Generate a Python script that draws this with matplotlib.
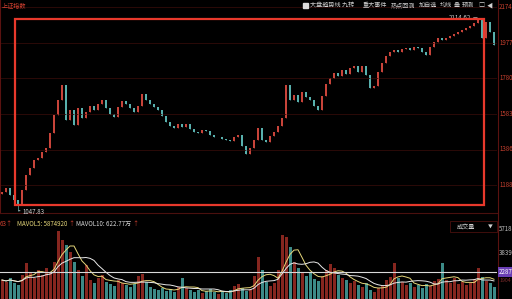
import matplotlib
matplotlib.use("Agg")
import matplotlib.pyplot as plt
import numpy as np
import pandas as pd
from matplotlib.patches import Rectangle

plt.rcParams['font.family'] = ['Noto Sans CJK SC', 'DejaVu Sans']

# daily closes of 上证指数
closes = [1151, 1173, 1134, 1107, 1079, 1162, 1245, 1284, 1328, 1339,
          1372, 1394, 1477, 1577, 1660, 1743, 1549, 1604, 1521, 1615,
          1560, 1593, 1627, 1604, 1638, 1660, 1615, 1582, 1566, 1621,
          1654, 1638, 1615, 1593, 1627, 1693, 1660, 1638, 1621, 1604,
          1571, 1538, 1516, 1505, 1527, 1510, 1527, 1499, 1483, 1477,
          1494, 1488, 1466, 1455, 1455, 1444, 1439, 1433, 1455, 1466,
          1405, 1361, 1394, 1439, 1505, 1439, 1427, 1461, 1483, 1516,
          1560, 1743, 1660, 1687, 1649, 1704, 1676, 1660, 1627, 1604,
          1682, 1748, 1781, 1809, 1792, 1826, 1803, 1837, 1848, 1815,
          1848, 1798, 1726, 1737, 1815, 1864, 1903, 1925, 1936, 1925,
          1942, 1947, 1936, 1953, 1947, 1925, 1909, 1953, 1980, 2003,
          1992, 2003, 2014, 2025, 2036, 2047, 2058, 2069, 2086, 2108,
          2003, 2091, 2036, 1964]
first_open = 1140
extreme_lows = {4: 1047.83}
extreme_highs = {119: 2114.62}

volumes = [1650, 1500, 1800, 1400, 1250, 2050, 3000, 2300, 1800, 2450,
           2050, 2600, 2300, 3100, 5550, 4850, 4450, 3900, 3100, 2450,
           1950, 2850, 1650, 1400, 1800, 2050, 1500, 1350, 1150, 1650,
           1400, 1250, 1100, 1350, 1950, 2100, 1500, 1100, 950, 850,
           1000, 750, 950, 700, 1100, 1800, 1000, 850, 700, 850,
           600, 750, 950, 700, 550, 750, 600, 850, 1150, 1350,
           1000, 750, 950, 1950, 3500, 2450, 1500, 1150, 1400, 2450,
           5250, 5100, 4300, 3100, 2600, 2200, 1950, 2300, 1700, 1550,
           1950, 2450, 2900, 2600, 2050, 1800, 1650, 1400, 1550, 1250,
           1100, 1400, 850, 700, 1000, 1150, 1650, 1900, 3000, 1800,
           1500, 1250, 1400, 1100, 1250, 1000, 1350, 1150, 1550, 1700,
           3000, 1650, 1400, 1800, 1350, 1500, 1250, 1400, 1700, 2600,
           1900, 1550, 1400, 1100]

price_ticks = [2174, 1977, 1780, 1583, 1386, 1188]
vol_ticks = [5718, 3839]
vol_mark = 2287

W, H = 512, 299
UP = '#c8443a'
DOWN = '#58b0ad'
VUP = '#86261f'
VDOWN = '#3c8a87'
GRID = '#320b09'
FS = 4.4


def fx(x):
    return x / W


def fy(y):
    return 1 - y / H


fig = plt.figure(figsize=(W / 100, H / 100), dpi=100, facecolor='black')

# price panel
ax = fig.add_axes([0, fy(213), fx(497), 213 / H], facecolor='black')
n = len(closes)
idx = np.arange(n)
opens = [first_open] + closes[:-1]
cols = [UP if c >= o else DOWN for o, c in zip(opens, closes)]
for p in price_ticks:
    ax.axhline(p, color=GRID, lw=0.6)
for i in idx:
    lo = min(opens[i], closes[i])
    hi = max(opens[i], closes[i])
    if i in extreme_lows:
        lo = extreme_lows[i]
    if i in extreme_highs:
        hi = extreme_highs[i]
    ax.vlines(i, lo, hi, color=cols[i], lw=0.5)
ax.bar(idx, np.array(closes) - np.array(opens), bottom=opens, width=0.32,
       color=cols, linewidth=0)
ax.set_xlim(-0.5, 123.75)
ax.set_ylim(1035, 2213)
ax.set_xticks([])
ax.set_yticks([])
for s in ax.spines.values():
    s.set_visible(False)
ax.spines['left'].set_visible(True)
ax.spines['left'].set_color('#5a1210')
ax.spines['bottom'].set_visible(True)
ax.spines['bottom'].set_color('#4a100e')

ax.annotate('2114.62', xy=(118.8, 2114.62), xytext=(117.2, 2114.62),
            color='#cfcfcf', fontsize=FS, va='center', ha='right',
            arrowprops=dict(arrowstyle='-', color='#cfcfcf', lw=0.6,
                            shrinkA=0, shrinkB=0))
ax.annotate('1047.83', xy=(4.2, 1047.83), xytext=(5.2, 1040),
            color='#cfcfcf', fontsize=FS, va='center', ha='left',
            arrowprops=dict(arrowstyle='-', color='#cfcfcf', lw=0.6,
                            shrinkA=0, shrinkB=0))

# red frame drawn over the chart
fig.patches.append(Rectangle((fx(15), fy(205)), fx(484 - 15), (205 - 19) / H,
                             transform=fig.transFigure, fill=False,
                             edgecolor='#e8392c', lw=1.6))

# volume panel
axv = fig.add_axes([0, 0, fx(497), 83 / H], facecolor='black')
vcols = [VUP if c >= o else VDOWN for o, c in zip(opens, closes)]
axv.bar(idx, volumes, width=0.75, color=vcols, linewidth=0)
vs = pd.Series(volumes)
axv.plot(idx, vs.rolling(5, min_periods=1).mean(), color='#e6d77a', lw=0.7)
axv.plot(idx, vs.rolling(10, min_periods=1).mean(), color='#e8e8e8', lw=0.7)
axv.axhline(vol_mark, color='#d8d8d8', lw=0.8)
axv.set_xlim(-0.5, 123.75)
axv.set_ylim(130, 6770)
axv.set_xticks([])
axv.set_yticks([])
for s in axv.spines.values():
    s.set_visible(False)

# right axis line
fig.add_artist(plt.Line2D([fx(497.5), fx(497.5)], [0, 1],
                          transform=fig.transFigure, color='#5a1210', lw=0.8))

# price labels
for p in price_ticks:
    y = 7 + (2174 - p) / 5.53
    fig.text(fx(499), fy(y), str(p), color='#c8402f', fontsize=FS,
             va='center', ha='left')

# volume labels
fig.text(fx(499), fy(229), str(vol_ticks[0]), color='#bdbdbd', fontsize=FS, va='center')
fig.text(fx(499), fy(253), str(vol_ticks[1]), color='#bdbdbd', fontsize=FS, va='center')
fig.text(fx(499), fy(272), str(vol_mark), color='#ffffff', fontsize=FS, va='center',
         bbox=dict(boxstyle='square,pad=0.1', fc='#6a3fb5', ec='none'))
fig.text(fx(499), fy(280), '1904', color='#7a2a2a', fontsize=3.8, va='center')

# title and toolbar
fig.text(fx(2), fy(5), '上证指数', color='#d04030', fontsize=FS, va='center')
fig.patches.append(Rectangle((fx(303), fy(7.5)), fx(5), 5 / H, transform=fig.transFigure,
                             color='#dddddd'))
tools = [(310, '大盘趋势线 九转'), (363, '重大事件'), (391, '热点回测'),
         (419, '加自选'), (440, '均线'), (454, '叠'), (462, '预测'), (478, '□'), (487, '◀')]
for x, t in tools:
    fig.text(fx(x), fy(5), t, color='#cfcfcf', fontsize=FS, va='center')

# volume legend row
fig.text(fx(0), fy(224), '63↑', color='#d04030', fontsize=FS, va='center')
fig.text(fx(17), fy(224), 'MAVOL5: 5874920', color='#e6d77a', fontsize=FS, va='center')
fig.text(fx(68), fy(224), '↑', color='#d04030', fontsize=FS, va='center')
fig.text(fx(76), fy(224), 'MAVOL10: 622.77万', color='#d8d8d8', fontsize=FS, va='center')
fig.text(fx(132), fy(224), '↑', color='#d04030', fontsize=FS, va='center')

# 成交量 selector
fig.patches.append(Rectangle((fx(450), fy(232)), fx(47), 11 / H, transform=fig.transFigure,
                             fill=False, edgecolor='#4a100e', lw=0.6))
fig.text(fx(457), fy(226.5), '成交量', color='#cfcfcf', fontsize=FS, va='center')
fig.text(fx(488), fy(226.5), '▼', color='#cfcfcf', fontsize=3.5, va='center')

fig.savefig('out.png', dpi=100, facecolor='black')
